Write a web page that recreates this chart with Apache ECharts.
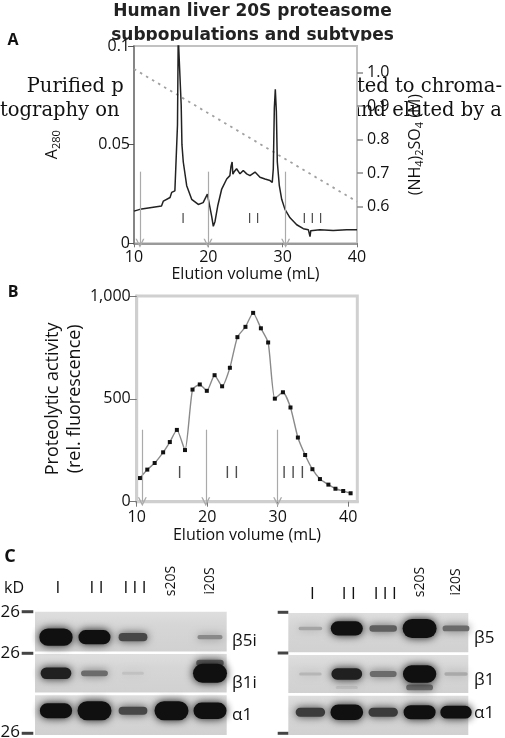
<!DOCTYPE html>
<html><head><meta charset="utf-8">
<script src="https://cdn.jsdelivr.net/npm/echarts@6/dist/echarts.min.js"></script>
<style>html,body{margin:0;padding:0;background:#fff}#c{width:505px;height:738px}</style>
</head><body><div id="c"></div>
<script>
// ---------- Panel A: A280 chromatogram ----------
const a280Volume = [10.0,10.8,12.15,13.7,13.95,14.85,15.07,15.5,15.74,15.85,15.95,16.2,16.35,16.45,16.63,17.09,17.76,18.65,19.3,19.87,20.13,20.45,20.67,20.9,21.26,21.8,22.47,22.9,23.05,23.2,23.3,23.45,23.8,24.26,24.7,24.93,25.16,25.6,26.28,26.95,27.62,28.3,28.6,28.74,28.88,29.01,29.15,29.28,29.55,29.87,30.31,30.99,31.89,32.78,33.45,33.6,33.68,33.78,35.0,36.8,38.6,40.0];
const a280Values = [0.0163,0.0172,0.018,0.0189,0.0214,0.0232,0.0258,0.0266,0.0275,0.06,0.105,0.105,0.07,0.05,0.0412,0.0292,0.0223,0.0197,0.0206,0.0249,0.024,0.0137,0.0086,0.0111,0.0189,0.0275,0.0326,0.0343,0.039,0.0412,0.035,0.0361,0.0378,0.0352,0.0369,0.0361,0.0352,0.0343,0.0361,0.0335,0.0326,0.0318,0.0309,0.0378,0.0687,0.0781,0.067,0.0412,0.0292,0.0223,0.0172,0.0129,0.0094,0.0074,0.0069,0.0069,0.0034,0.0064,0.0069,0.0065,0.0069,0.0069];
const saltVolume = [10, 40];
const saltConc = [1.011, 0.615];
const saltTicks = [0.6, 0.7, 0.8, 0.9, 1.0];
const fractionNames = ['I', 'II', 'III'];
const fractionCutsA = [10.8, 19.95, 30.4];
const fractionLabelVolA = [16.6, 26.1, 34.0];

// ---------- Panel B: proteolytic activity ----------
const activityVolume = [10.47,11.5,12.55,13.75,14.7,15.7,16.85,17.92,18.95,19.95,21.05,22.12,23.22,24.29,25.43,26.52,27.62,28.65,29.6,30.75,31.82,32.87,33.9,34.93,36.0,37.2,38.2,39.3,40.35];
const activityValues = [115,156,188,240,290,349,251,545,570,539,615,561,651,800,850,918,843,774,501,532,458,312,227,158,110,83,63,52,41];
const volumeTicks = [10, 20, 30, 40];
const fractionCutsB = [10.8, 19.8, 30.0];
const fractionLabelVolB = [16.1, 23.5, 32.2];

// ---------- Panel C: immunoblots (relative band intensity 0..1) ----------
const lanes = ['I', 'II', 'III', 's20S', 'i20S'];
const leftBlotRows = ['β5i', 'β1i', 'α1'];
const rightBlotRows = ['β5', 'β1', 'α1'];
const beta5iBands = [0.95, 0.85, 0.6, 0, 0.32];
const beta1iBands = [0.75, 0.45, 0.07, 0, 1.0];
const alpha1LeftBands = [0.87, 1.0, 0.6, 1.0, 0.92];
const beta1iUpperBands = [0, 0, 0, 0, 0.5];
const beta5Bands = [0.2, 0.85, 0.5, 1.0, 0.45];
const beta1Bands = [0.12, 0.75, 0.45, 0.95, 0.18];
const alpha1RightBands = [0.65, 0.9, 0.65, 0.85, 0.8];
const beta1LowerBands = [0, 0.08, 0, 0.45, 0];
const markerLabel = '26';

// ---------- helpers ----------
const FONT = 'Open Sans';
const spaced = s => s.length <= 3 ? s.split('').join(' ') : s;
const zip = (a, b) => a.map((v, i) => [v, b[i]]);
const chevron = 'path://M0,10 L5,0 L10,10 L8.4,10 L5,3.2 L1.6,10 Z';

function cutLines(cuts, top) {
  return cuts.map(x => [{coord: [x, top]}, {coord: [x, 0]}]);
}
function blotData(rows, extra, shift, rowShift) {
  const d = [];
  extra.forEach((v, l) => d.push([l, 1, v, shift + rowShift[1]]));
  rows.forEach((arr, r) => arr.forEach((v, l) => d.push([l, r, v, rowShift[r]])));
  return d;
}
function stripItem(params, api) {
  const cs = params.coordSys;
  const r = api.value(1);
  const h = cs.height / 3;
  const y0 = cs.y + r * h + (r > 0 ? 1.3 : 0);
  const y1 = cs.y + (r + 1) * h - (r < 2 ? 1.3 : 0);
  return {type: 'rect', shape: {x: cs.x, y: y0, width: cs.width, height: y1 - y0},
          style: {fill: {type: 'linear', x: 0, y: 0, x2: 0, y2: 1,
                  colorStops: [{offset: 0, color: '#dedede'}, {offset: 0.35, color: '#d6d6d6'}, {offset: 1, color: '#d1d1d1'}]}}};
}
function bandItem(params, api) {
  const I = api.value(2);
  if (!(I > 0)) return null;
  const c = api.coord([api.value(0), api.value(1) + 0.5 + api.value(3)]);
  const w = 21 + 13 * I, h = 3 + 16 * Math.pow(I, 2.2);
  const g = Math.round(16 + 192 * Math.pow(Math.max(0, 1 - 1.25 * I), 0.9));
  const col = 'rgb(' + g + ',' + g + ',' + g + ')';
  return {type: 'rect', shape: {x: c[0] - w / 2, y: c[1] - h / 2, width: w, height: h, r: h / 2},
          style: {fill: col, shadowBlur: 8, shadowColor: col}};
}
function laneLabelItem(shortOff, longOff) {
  return function (params, api) {
    const i = api.value(0);
    const name = lanes[i];
    const isLong = name.length > 3;
    const x = api.coord([i, 0])[0];
    return {type: 'text', x: x + (isLong ? 0 : 2), y: params.coordSys.y - (isLong ? longOff : shortOff),
            rotation: isLong ? Math.PI / 2 : 0,
            style: {text: spaced(name), fill: '#111', fontSize: isLong ? 14 : 17, fontFamily: FONT,
                    align: 'center', verticalAlign: 'middle', textAlign: 'center', textVerticalAlign: 'middle'}};
  };
}
function txt(text, x, y, o) {
  o = o || {};
  return {type: 'text', x: x, y: y, z: o.z != null ? o.z : 10, silent: true,
          style: {text: text, fill: o.fill || '#111', fontSize: o.size || 16,
                  fontFamily: o.family || FONT, fontWeight: o.weight || 'normal',
                  align: o.align || 'left', textAlign: o.align || 'left',
                  verticalAlign: 'middle', textVerticalAlign: 'middle'}};
}
function dash(x1, x2, y) {
  return {type: 'line', z: 10, silent: true, shape: {x1: x1, y1: y, x2: x2, y2: y},
          style: {stroke: '#444', lineWidth: 3}};
}

const axisText = {fontFamily: FONT, fontSize: 16, color: '#111'};
const subRich = {
  b: {fontFamily: FONT, fontSize: 16, color: '#111', verticalAlign: 'top', lineHeight: 18},
  s: {fontFamily: FONT, fontSize: 11, color: '#111', verticalAlign: 'top', lineHeight: 11, padding: [7, 0, 0, 0]}
};

const graphic = [
  // title (lower part hidden, as in the source)
  txt('Human liver 20S proteasome', 252.5, 12, {align: 'center', size: 17, weight: 'bold', family: 'DejaVu Sans', z: -10, fill: '#222'}),
  txt('subpopulations and subtypes', 252.5, 35.3, {align: 'center', size: 17, weight: 'bold', family: 'DejaVu Sans', z: -10, fill: '#222'}),
  {type: 'rect', z: -9, silent: true, shape: {x: 95, y: 40.7, width: 310, height: 6}, style: {fill: '#fff'}},
  // stray body text behind panel A
  txt('Purified p', 26.7, 86.5, {family: 'DejaVu Serif', size: 19.5, z: -8}),
  txt('subjected to chroma-', 502, 86.5, {family: 'DejaVu Serif', size: 19.5, z: -8, align: 'right'}),
  txt('tography on', 0, 111, {family: 'DejaVu Serif', size: 19.5, z: -8}),
  txt('and eluted by a', 502, 111, {family: 'DejaVu Serif', size: 19.5, z: -8, align: 'right'}),
  // panel letters
  txt('A', 13, 40, {align: 'center', weight: 'bold', size: 16}),
  txt('B', 13, 292, {align: 'center', weight: 'bold', size: 16}),
  txt('C', 10, 557, {align: 'center', weight: 'bold', size: 18}),
  // blot markers
  txt('kD', 4, 588, {size: 16}),
  txt(markerLabel, 20, 611.7, {align: 'right', size: 17}),
  txt(markerLabel, 20, 653.3, {align: 'right', size: 17}),
  txt(markerLabel, 20, 732.5, {align: 'right', size: 17}),
  dash(21.7, 33.3, 611.7), dash(21.7, 33.3, 653.3), dash(21.7, 33.3, 733.3),
  dash(277.7, 288.3, 612.3), dash(277.7, 288.3, 653), dash(277.7, 288.3, 733.3)
];
const leftRowY = [641, 683, 715.5], rightRowY = [638, 680, 713];
leftBlotRows.forEach((t, i) => graphic.push(txt(t, 232, leftRowY[i], {size: 17})));
rightBlotRows.forEach((t, i) => graphic.push(txt(t, 474, rightRowY[i], {size: 17})));

const option = {
  animation: false,
  graphic: graphic,
  grid: [
    {left: 134, top: 46, width: 223, height: 197.3, show: true, backgroundColor: '#fff', borderColor: '#c2c2c2', borderWidth: 2, z: -5},
    {left: 136.7, top: 296, width: 220.6, height: 205.7, show: true, backgroundColor: '#fff', borderColor: '#d0d0d0', borderWidth: 3, z: -5},
    {left: 35, top: 611.7, width: 191.7, height: 123.3},
    {left: 288.3, top: 613, width: 180, height: 122}
  ],
  xAxis: [
    {gridIndex: 0, type: 'value', min: 10, max: 40, interval: 10,
     axisLine: {lineStyle: {color: '#9a9a9a', width: 2}},
     axisTick: {length: 4, lineStyle: {color: '#777'}},
     axisLabel: Object.assign({margin: 6}, axisText), splitLine: {show: false},
     name: 'Elution volume (mL)', nameLocation: 'middle', nameGap: 21, nameTextStyle: axisText},
    {gridIndex: 1, type: 'value', min: 10, max: 41.3,
     axisLine: {lineStyle: {color: '#cfcfcf', width: 3}},
     axisTick: {length: 5, customValues: volumeTicks, lineStyle: {color: '#777'}},
     axisLabel: Object.assign({margin: 8, customValues: volumeTicks}, axisText), splitLine: {show: false},
     name: 'Elution volume (mL)', nameLocation: 'middle', nameGap: 26, nameTextStyle: axisText},
    {gridIndex: 2, type: 'value', min: -0.545, max: 4.434, show: false},
    {gridIndex: 3, type: 'value', min: -0.607, max: 4.338, show: false}
  ],
  yAxis: [
    {gridIndex: 0, type: 'value', min: 0, max: 0.1, interval: 0.05,
     axisLine: {show: true, lineStyle: {color: '#707070', width: 1.5}},
     axisTick: {show: true, length: 6, lineStyle: {color: '#555'}},
     axisLabel: Object.assign({margin: 4, formatter: v => v === 0 ? '0' : String(Math.round(v * 100) / 100)}, axisText),
     splitLine: {show: false},
     name: '{b|A}{s|280}', nameLocation: 'middle', nameGap: 72, nameTextStyle: {rich: subRich}},
    {gridIndex: 0, type: 'value', position: 'right', min: 0.4907, max: 1.0797,
     axisLine: {show: false},
     axisTick: {show: true, length: 6, customValues: saltTicks, lineStyle: {color: '#8a8a8a', width: 1.5}},
     axisLabel: Object.assign({margin: 10, customValues: saltTicks, formatter: v => v.toFixed(1)}, axisText),
     splitLine: {show: false},
     name: '{b|(NH}{s|4}{b|)}{s|2}{b|SO}{s|4}{b| (M)}', nameLocation: 'middle', nameGap: 50, nameTextStyle: {rich: subRich}},
    {gridIndex: 1, type: 'value', min: 0, max: 1000, interval: 500,
     axisLine: {show: true, lineStyle: {color: '#cfcfcf', width: 3}},
     axisTick: {show: true, length: 7, lineStyle: {color: '#777'}},
     axisLabel: Object.assign({margin: 6, formatter: v => v === 1000 ? '1,000' : String(v)}, axisText),
     splitLine: {show: false},
     name: 'Proteolytic activity\n(rel. fluorescence)', nameLocation: 'middle', nameGap: 50,
     nameTextStyle: {fontFamily: FONT, fontSize: 18, color: '#111', lineHeight: 22}},
    {gridIndex: 2, type: 'value', min: 0, max: 3, inverse: true, show: false},
    {gridIndex: 3, type: 'value', min: 0, max: 3, inverse: true, show: false}
  ],
  series: [
    {type: 'line', xAxisIndex: 0, yAxisIndex: 0, data: zip(a280Volume, a280Values), showSymbol: false, symbol: 'none',
     lineStyle: {color: '#222', width: 1.5}, z: 3,
     markLine: {silent: true, symbol: ['none', chevron], symbolSize: [9, 9], label: {show: false},
                lineStyle: {color: '#aaaaaa', width: 1.2, type: 'solid'}, data: cutLines(fractionCutsA, 0.0363)}},
    {type: 'line', xAxisIndex: 0, yAxisIndex: 1, data: zip(saltVolume, saltConc), symbol: 'none',
     lineStyle: {color: '#a0a0a0', width: 1.8, type: [2.5, 4.5]}, z: 2},
    {type: 'scatter', xAxisIndex: 0, yAxisIndex: 0, symbolSize: 0, silent: true,
     data: fractionLabelVolA.map(v => [v, 0.0125]),
     label: {show: true, position: 'inside', formatter: p => spaced(fractionNames[p.dataIndex]), fontFamily: FONT, fontSize: 15, color: '#222'}},
    {type: 'line', xAxisIndex: 1, yAxisIndex: 2, data: zip(activityVolume, activityValues), smooth: 0.2,
     symbol: 'rect', symbolSize: 4, itemStyle: {color: '#111'}, lineStyle: {color: '#8a8a8a', width: 1.4}, z: 3,
     markLine: {silent: true, symbol: ['none', chevron], symbolSize: [9, 9], label: {show: false},
                lineStyle: {color: '#aaaaaa', width: 1.2, type: 'solid'}, data: cutLines(fractionCutsB, 350)}},
    {type: 'scatter', xAxisIndex: 1, yAxisIndex: 2, symbolSize: 0, silent: true,
     data: fractionLabelVolB.map(v => [v, 138]),
     label: {show: true, position: 'inside', formatter: p => spaced(fractionNames[p.dataIndex]), fontFamily: FONT, fontSize: 17, color: '#222'}},
    // left blot
    {type: 'custom', xAxisIndex: 2, yAxisIndex: 3, silent: true, renderItem: stripItem, data: leftBlotRows.map((r, i) => [0, i]), z: 1},
    {type: 'custom', xAxisIndex: 2, yAxisIndex: 3, silent: true, renderItem: bandItem,
     data: blotData([beta5iBands, beta1iBands, alpha1LeftBands], beta1iUpperBands, -0.25, [0.12, 0, -0.09]), z: 2},
    {type: 'custom', xAxisIndex: 2, yAxisIndex: 3, silent: true, renderItem: laneLabelItem(23.7, 30.7), data: lanes.map((n, i) => [i, 0]), z: 3},
    // right blot
    {type: 'custom', xAxisIndex: 3, yAxisIndex: 4, silent: true, renderItem: stripItem, data: rightBlotRows.map((r, i) => [0, i]), z: 1},
    {type: 'custom', xAxisIndex: 3, yAxisIndex: 4, silent: true, renderItem: bandItem,
     data: blotData([beta5Bands, beta1Bands, alpha1RightBands], beta1LowerBands, 0.33, [-0.12, 0, -0.06]), z: 2},
    {type: 'custom', xAxisIndex: 3, yAxisIndex: 4, silent: true, renderItem: laneLabelItem(19, 31), data: lanes.map((n, i) => [i, 0]), z: 3}
  ]
};
const chart = echarts.init(document.getElementById('c'), null, {renderer: 'canvas'});
chart.setOption(option);
</script>
</body></html>
